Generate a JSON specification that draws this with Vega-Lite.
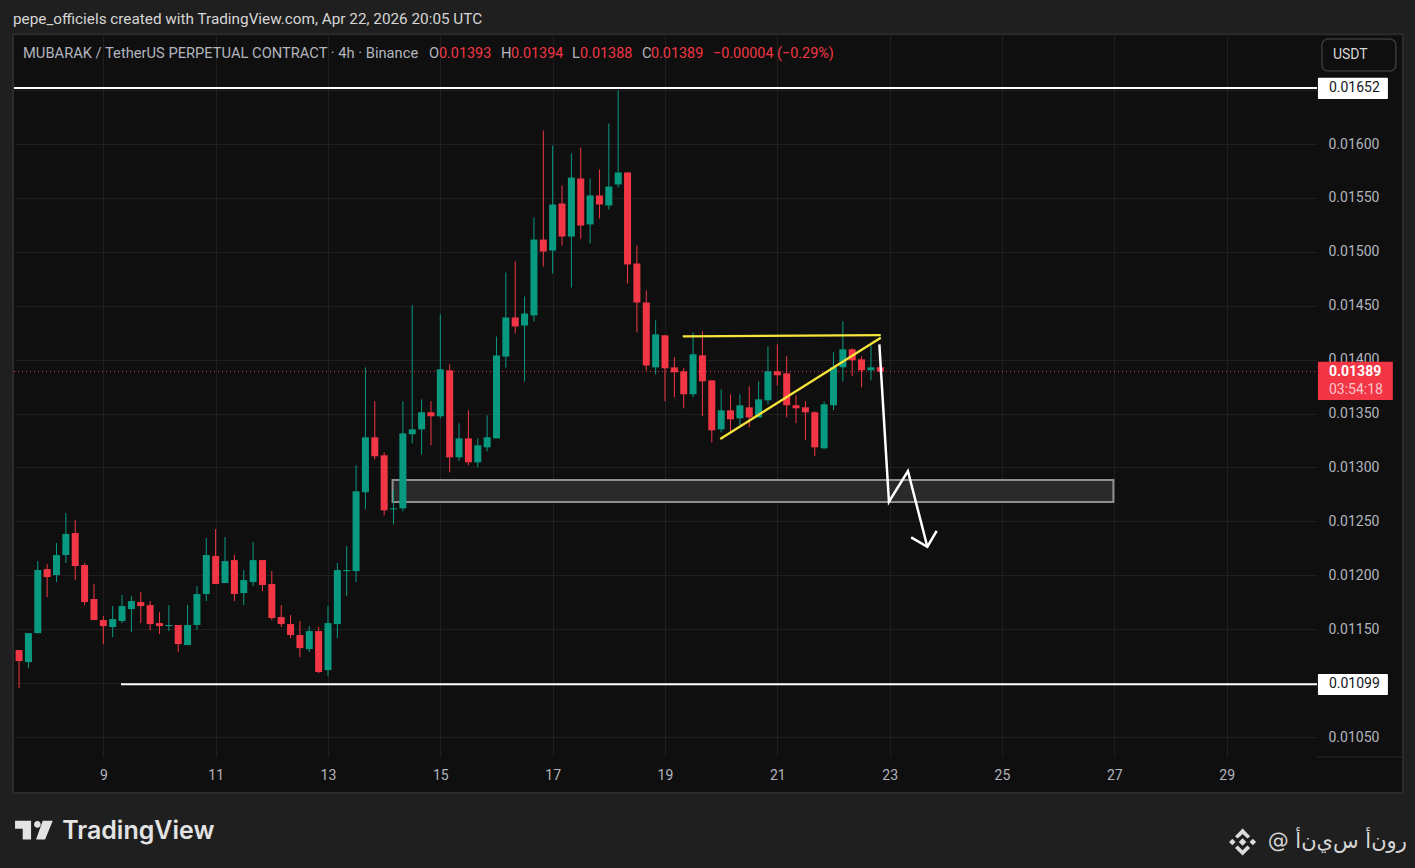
{
  "$schema": "https://vega.github.io/schema/vega-lite/v6.json",
  "description": "MUBARAK / TetherUS perpetual contract, 4h candles with drawn levels and a projected path.",
  "width": 1303,
  "height": 722,
  "autosize": {"type": "none"},
  "padding": {"left": 14, "top": 35, "right": 98, "bottom": 111},
  "background": "#0f0f0f",
  "view": {"stroke": null},
  "config": {"font": "Roboto", "text": {"font": "Roboto", "fontSize": 14, "baseline": "middle", "align": "left"}},
  "datasets": {
    "candles": [
      {"t":"2026-04-07T12:00:00Z","o":0.011307,"h":0.011307,"l":0.010954,"c":0.011205,"dir":"down"},
      {"t":"2026-04-07T16:00:00Z","o":0.011195,"h":0.011464,"l":0.011140,"c":0.011464,"dir":"up"},
      {"t":"2026-04-07T20:00:00Z","o":0.011464,"h":0.012132,"l":0.011464,"c":0.012049,"dir":"up"},
      {"t":"2026-04-08T00:00:00Z","o":0.012058,"h":0.012104,"l":0.011798,"c":0.011984,"dir":"down"},
      {"t":"2026-04-08T04:00:00Z","o":0.012002,"h":0.012299,"l":0.011937,"c":0.012188,"dir":"up"},
      {"t":"2026-04-08T08:00:00Z","o":0.012188,"h":0.012577,"l":0.012114,"c":0.012383,"dir":"up"},
      {"t":"2026-04-08T12:00:00Z","o":0.012392,"h":0.012512,"l":0.011956,"c":0.012086,"dir":"down"},
      {"t":"2026-04-08T16:00:00Z","o":0.012095,"h":0.012114,"l":0.011724,"c":0.011752,"dir":"down"},
      {"t":"2026-04-08T20:00:00Z","o":0.011780,"h":0.011919,"l":0.011585,"c":0.011585,"dir":"down"},
      {"t":"2026-04-09T00:00:00Z","o":0.011585,"h":0.011622,"l":0.011362,"c":0.011529,"dir":"down"},
      {"t":"2026-04-09T04:00:00Z","o":0.011520,"h":0.011715,"l":0.011427,"c":0.011594,"dir":"up"},
      {"t":"2026-04-09T08:00:00Z","o":0.011576,"h":0.011817,"l":0.011557,"c":0.011715,"dir":"up"},
      {"t":"2026-04-09T12:00:00Z","o":0.011687,"h":0.011808,"l":0.011474,"c":0.011761,"dir":"up"},
      {"t":"2026-04-09T16:00:00Z","o":0.011752,"h":0.011845,"l":0.011557,"c":0.011715,"dir":"down"},
      {"t":"2026-04-09T20:00:00Z","o":0.011724,"h":0.011761,"l":0.011492,"c":0.011548,"dir":"down"},
      {"t":"2026-04-10T00:00:00Z","o":0.011557,"h":0.011659,"l":0.011455,"c":0.011529,"dir":"down"},
      {"t":"2026-04-10T04:00:00Z","o":0.011529,"h":0.011724,"l":0.011483,"c":0.011539,"dir":"up"},
      {"t":"2026-04-10T08:00:00Z","o":0.011539,"h":0.011539,"l":0.011288,"c":0.011362,"dir":"down"},
      {"t":"2026-04-10T12:00:00Z","o":0.011353,"h":0.011724,"l":0.011353,"c":0.011539,"dir":"up"},
      {"t":"2026-04-10T16:00:00Z","o":0.011539,"h":0.011900,"l":0.011492,"c":0.011826,"dir":"up"},
      {"t":"2026-04-10T20:00:00Z","o":0.011826,"h":0.012346,"l":0.011761,"c":0.012188,"dir":"up"},
      {"t":"2026-04-11T00:00:00Z","o":0.012179,"h":0.012429,"l":0.011919,"c":0.011919,"dir":"down"},
      {"t":"2026-04-11T04:00:00Z","o":0.011928,"h":0.012355,"l":0.011928,"c":0.012132,"dir":"up"},
      {"t":"2026-04-11T08:00:00Z","o":0.012141,"h":0.012188,"l":0.011761,"c":0.011826,"dir":"down"},
      {"t":"2026-04-11T12:00:00Z","o":0.011835,"h":0.012049,"l":0.011724,"c":0.011956,"dir":"up"},
      {"t":"2026-04-11T16:00:00Z","o":0.011937,"h":0.012308,"l":0.011900,"c":0.012141,"dir":"up"},
      {"t":"2026-04-11T20:00:00Z","o":0.012141,"h":0.012141,"l":0.011854,"c":0.011910,"dir":"down"},
      {"t":"2026-04-12T00:00:00Z","o":0.011919,"h":0.012039,"l":0.011585,"c":0.011604,"dir":"down"},
      {"t":"2026-04-12T04:00:00Z","o":0.011613,"h":0.011724,"l":0.011520,"c":0.011548,"dir":"down"},
      {"t":"2026-04-12T08:00:00Z","o":0.011548,"h":0.011631,"l":0.011418,"c":0.011446,"dir":"down"},
      {"t":"2026-04-12T12:00:00Z","o":0.011446,"h":0.011576,"l":0.011242,"c":0.011325,"dir":"down"},
      {"t":"2026-04-12T16:00:00Z","o":0.011316,"h":0.011529,"l":0.011288,"c":0.011483,"dir":"up"},
      {"t":"2026-04-12T20:00:00Z","o":0.011483,"h":0.011520,"l":0.011093,"c":0.011103,"dir":"down"},
      {"t":"2026-04-13T00:00:00Z","o":0.011121,"h":0.011715,"l":0.011066,"c":0.011557,"dir":"up"},
      {"t":"2026-04-13T04:00:00Z","o":0.011548,"h":0.012114,"l":0.011418,"c":0.012049,"dir":"up"},
      {"t":"2026-04-13T08:00:00Z","o":0.012039,"h":0.012271,"l":0.011808,"c":0.012049,"dir":"up"},
      {"t":"2026-04-13T12:00:00Z","o":0.012039,"h":0.013020,"l":0.011937,"c":0.012779,"dir":"up"},
      {"t":"2026-04-13T16:00:00Z","o":0.012770,"h":0.013929,"l":0.012612,"c":0.013280,"dir":"up"},
      {"t":"2026-04-13T20:00:00Z","o":0.013280,"h":0.013614,"l":0.013076,"c":0.013104,"dir":"down"},
      {"t":"2026-04-14T00:00:00Z","o":0.013113,"h":0.013141,"l":0.012556,"c":0.012603,"dir":"down"},
      {"t":"2026-04-14T04:00:00Z","o":0.012612,"h":0.012788,"l":0.012473,"c":0.012621,"dir":"up"},
      {"t":"2026-04-14T08:00:00Z","o":0.012621,"h":0.013614,"l":0.012593,"c":0.013317,"dir":"up"},
      {"t":"2026-04-14T12:00:00Z","o":0.013308,"h":0.014504,"l":0.013224,"c":0.013354,"dir":"up"},
      {"t":"2026-04-14T16:00:00Z","o":0.013354,"h":0.013632,"l":0.013122,"c":0.013512,"dir":"up"},
      {"t":"2026-04-14T20:00:00Z","o":0.013512,"h":0.013614,"l":0.013206,"c":0.013475,"dir":"down"},
      {"t":"2026-04-15T00:00:00Z","o":0.013475,"h":0.014421,"l":0.013456,"c":0.013910,"dir":"up"},
      {"t":"2026-04-15T04:00:00Z","o":0.013901,"h":0.013957,"l":0.012955,"c":0.013094,"dir":"down"},
      {"t":"2026-04-15T08:00:00Z","o":0.013094,"h":0.013410,"l":0.013057,"c":0.013270,"dir":"up"},
      {"t":"2026-04-15T12:00:00Z","o":0.013270,"h":0.013530,"l":0.013020,"c":0.013048,"dir":"down"},
      {"t":"2026-04-15T16:00:00Z","o":0.013048,"h":0.013270,"l":0.013002,"c":0.013206,"dir":"up"},
      {"t":"2026-04-15T20:00:00Z","o":0.013187,"h":0.013484,"l":0.013150,"c":0.013280,"dir":"up"},
      {"t":"2026-04-16T00:00:00Z","o":0.013270,"h":0.014215,"l":0.013270,"c":0.014039,"dir":"up"},
      {"t":"2026-04-16T04:00:00Z","o":0.014029,"h":0.014808,"l":0.013927,"c":0.014391,"dir":"up"},
      {"t":"2026-04-16T08:00:00Z","o":0.014391,"h":0.014910,"l":0.014243,"c":0.014308,"dir":"down"},
      {"t":"2026-04-16T12:00:00Z","o":0.014317,"h":0.014586,"l":0.013797,"c":0.014428,"dir":"up"},
      {"t":"2026-04-16T16:00:00Z","o":0.014410,"h":0.015318,"l":0.014354,"c":0.015114,"dir":"up"},
      {"t":"2026-04-16T20:00:00Z","o":0.015114,"h":0.016125,"l":0.014864,"c":0.015003,"dir":"down"},
      {"t":"2026-04-17T00:00:00Z","o":0.015012,"h":0.015986,"l":0.014799,"c":0.015439,"dir":"up"},
      {"t":"2026-04-17T04:00:00Z","o":0.015448,"h":0.015615,"l":0.015059,"c":0.015142,"dir":"down"},
      {"t":"2026-04-17T08:00:00Z","o":0.015142,"h":0.015912,"l":0.014669,"c":0.015689,"dir":"up"},
      {"t":"2026-04-17T12:00:00Z","o":0.015680,"h":0.015968,"l":0.015124,"c":0.015244,"dir":"down"},
      {"t":"2026-04-17T16:00:00Z","o":0.015254,"h":0.015680,"l":0.015077,"c":0.015523,"dir":"up"},
      {"t":"2026-04-17T20:00:00Z","o":0.015523,"h":0.015764,"l":0.015309,"c":0.015439,"dir":"down"},
      {"t":"2026-04-18T00:00:00Z","o":0.015430,"h":0.016190,"l":0.015393,"c":0.015606,"dir":"up"},
      {"t":"2026-04-18T04:00:00Z","o":0.015625,"h":0.016496,"l":0.015597,"c":0.015736,"dir":"up"},
      {"t":"2026-04-18T08:00:00Z","o":0.015736,"h":0.015736,"l":0.014706,"c":0.014883,"dir":"down"},
      {"t":"2026-04-18T12:00:00Z","o":0.014892,"h":0.015059,"l":0.014252,"c":0.014530,"dir":"down"},
      {"t":"2026-04-18T16:00:00Z","o":0.014530,"h":0.014641,"l":0.013899,"c":0.013946,"dir":"down"},
      {"t":"2026-04-18T20:00:00Z","o":0.013929,"h":0.014365,"l":0.013864,"c":0.014235,"dir":"up"},
      {"t":"2026-04-19T00:00:00Z","o":0.014226,"h":0.014226,"l":0.013614,"c":0.013920,"dir":"down"},
      {"t":"2026-04-19T04:00:00Z","o":0.013929,"h":0.014022,"l":0.013651,"c":0.013883,"dir":"down"},
      {"t":"2026-04-19T08:00:00Z","o":0.013892,"h":0.013920,"l":0.013549,"c":0.013679,"dir":"down"},
      {"t":"2026-04-19T12:00:00Z","o":0.013679,"h":0.014254,"l":0.013651,"c":0.014050,"dir":"up"},
      {"t":"2026-04-19T16:00:00Z","o":0.014040,"h":0.014263,"l":0.013475,"c":0.013799,"dir":"down"},
      {"t":"2026-04-19T20:00:00Z","o":0.013808,"h":0.013808,"l":0.013233,"c":0.013345,"dir":"down"},
      {"t":"2026-04-20T00:00:00Z","o":0.013354,"h":0.013725,"l":0.013326,"c":0.013530,"dir":"up"},
      {"t":"2026-04-20T04:00:00Z","o":0.013530,"h":0.013679,"l":0.013317,"c":0.013447,"dir":"down"},
      {"t":"2026-04-20T08:00:00Z","o":0.013456,"h":0.013679,"l":0.013382,"c":0.013577,"dir":"up"},
      {"t":"2026-04-20T12:00:00Z","o":0.013558,"h":0.013753,"l":0.013372,"c":0.013465,"dir":"down"},
      {"t":"2026-04-20T16:00:00Z","o":0.013465,"h":0.013799,"l":0.013465,"c":0.013632,"dir":"up"},
      {"t":"2026-04-20T20:00:00Z","o":0.013623,"h":0.014124,"l":0.013586,"c":0.013892,"dir":"up"},
      {"t":"2026-04-21T00:00:00Z","o":0.013892,"h":0.014142,"l":0.013762,"c":0.013855,"dir":"down"},
      {"t":"2026-04-21T04:00:00Z","o":0.013873,"h":0.014031,"l":0.013465,"c":0.013577,"dir":"down"},
      {"t":"2026-04-21T08:00:00Z","o":0.013577,"h":0.013669,"l":0.013410,"c":0.013549,"dir":"down"},
      {"t":"2026-04-21T12:00:00Z","o":0.013558,"h":0.013614,"l":0.013252,"c":0.013512,"dir":"down"},
      {"t":"2026-04-21T16:00:00Z","o":0.013512,"h":0.013521,"l":0.013104,"c":0.013187,"dir":"down"},
      {"t":"2026-04-21T20:00:00Z","o":0.013178,"h":0.013614,"l":0.013168,"c":0.013586,"dir":"up"},
      {"t":"2026-04-22T00:00:00Z","o":0.013577,"h":0.014068,"l":0.013530,"c":0.013929,"dir":"up"},
      {"t":"2026-04-22T04:00:00Z","o":0.013929,"h":0.014356,"l":0.013799,"c":0.014096,"dir":"up"},
      {"t":"2026-04-22T08:00:00Z","o":0.014096,"h":0.014105,"l":0.013846,"c":0.013994,"dir":"down"},
      {"t":"2026-04-22T12:00:00Z","o":0.014003,"h":0.014031,"l":0.013743,"c":0.013901,"dir":"down"},
      {"t":"2026-04-22T16:00:00Z","o":0.013901,"h":0.014133,"l":0.013808,"c":0.013929,"dir":"up"},
      {"t":"2026-04-22T20:00:00Z","o":0.01393,"h":0.01394,"l":0.01388,"c":0.01389,"dir":"down"}
    ]
  },
  "encoding": {
    "x": {
      "field": "t",
      "type": "temporal",
      "title": null,
      "scale": {"type": "utc", "domain": ["2026-04-07T09:50:00Z", "2026-04-30T14:36:00Z"], "nice": false, "padding": 0},
      "axis": {
        "orient": "bottom",
        "tickCount": {"interval": "day", "step": 2},
        "format": "%-d",
        "grid": true,
        "gridColor": "#1f1f1f",
        "domain": false,
        "ticks": false,
        "labelPadding": 11,
        "labelFontSize": 14,
        "labelColor": "#b2b5be",
        "labelFont": "Roboto"
      }
    },
    "y": {
      "field": "p",
      "type": "quantitative",
      "title": null,
      "scale": {"domain": [0.010315, 0.017011], "nice": false, "zero": false},
      "axis": {
        "orient": "right",
        "values": [0.0105, 0.011, 0.0115, 0.012, 0.0125, 0.013, 0.0135, 0.014, 0.0145, 0.015, 0.0155, 0.016, 0.0165],
        "format": ".5f",
        "grid": true,
        "gridColor": "#1f1f1f",
        "domain": false,
        "ticks": false,
        "labelPadding": 11,
        "labelFontSize": 14,
        "labelColor": "#b2b5be",
        "labelFont": "Roboto"
      }
    }
  },
  "layer": [
    {
      "data": {"values": [
        {"t": "2026-04-07T00:00:00Z", "t2": "2026-05-02T08:30:00Z", "p": 0.017336, "p2": 0.017017},
        {"t": "2026-04-07T00:00:00Z", "t2": "2026-05-02T08:30:00Z", "p": 0.00998, "p2": 0.009285},
        {"t": "2026-04-07T00:00:00Z", "t2": "2026-04-07T09:24:00Z", "p": 0.017336, "p2": 0.009285},
        {"t": "2026-05-02T03:18:00Z", "t2": "2026-05-02T08:30:00Z", "p": 0.017336, "p2": 0.009285}
      ]},
      "mark": {"type": "rect", "color": "#1f1f1f"},
      "encoding": {"x2": {"field": "t2"}, "y2": {"field": "p2"}}
    },
    {
      "data": {"values": [{"t": "2026-04-07T09:24:00Z", "t2": "2026-05-02T03:18:00Z", "p": 0.017017, "p2": 0.00998}]},
      "mark": {"type": "rect", "filled": false, "stroke": "#2b2b2b", "strokeWidth": 2},
      "encoding": {"x2": {"field": "t2"}, "y2": {"field": "p2"}}
    },
    {
      "data": {"values": [{"t": "2026-04-30T14:36:00Z", "t2": "2026-05-02T03:18:00Z", "p": 0.010315}]},
      "mark": {"type": "rule", "color": "#2b2b2b"},
      "encoding": {"x2": {"field": "t2"}}
    },
    {
      "data": {"values": [{"t": "2026-04-14T03:36:00Z", "t2": "2026-04-26T23:36:00Z", "p": 0.012884, "p2": 0.01268}]},
      "mark": {"type": "rect", "fill": "#2a2a2a", "stroke": "#8f8f8f", "strokeWidth": 2},
      "encoding": {"x2": {"field": "t2"}, "y2": {"field": "p2"}}
    },
    {
      "data": {"values": [{"t": "2026-04-07T09:50:00Z", "t2": "2026-04-30T14:36:00Z", "p": 0.01389}]},
      "mark": {"type": "rule", "color": "#f23645", "strokeWidth": 1, "strokeDash": [1, 3]},
      "encoding": {"x2": {"field": "t2"}}
    },
    {
      "data": {"name": "candles"},
      "mark": {"type": "rule", "strokeWidth": 1},
      "encoding": {
        "y": {
          "field": "h",
          "type": "quantitative",
          "title": null,
          "axis": {
            "orient": "right",
            "values": [0.0105, 0.011, 0.0115, 0.012, 0.0125, 0.013, 0.0135, 0.014, 0.0145, 0.015, 0.0155, 0.016, 0.0165],
            "format": ".5f",
            "grid": true,
            "gridColor": "#1f1f1f",
            "domain": false,
            "ticks": false,
            "labelPadding": 11,
            "labelFontSize": 14,
            "labelColor": "#b2b5be",
            "labelFont": "Roboto"
          }
        },
        "y2": {"field": "l"},
        "color": {"field": "dir", "type": "nominal", "legend": null, "scale": {"domain": ["up", "down"], "range": ["#089981", "#f23645"]}}
      }
    },
    {
      "data": {"name": "candles"},
      "mark": {"type": "bar", "size": 7},
      "encoding": {
        "y": {
          "field": "o",
          "type": "quantitative",
          "title": null,
          "axis": {
            "orient": "right",
            "values": [0.0105, 0.011, 0.0115, 0.012, 0.0125, 0.013, 0.0135, 0.014, 0.0145, 0.015, 0.0155, 0.016, 0.0165],
            "format": ".5f",
            "grid": true,
            "gridColor": "#1f1f1f",
            "domain": false,
            "ticks": false,
            "labelPadding": 11,
            "labelFontSize": 14,
            "labelColor": "#b2b5be",
            "labelFont": "Roboto"
          }
        },
        "y2": {"field": "c"},
        "color": {"field": "dir", "type": "nominal", "legend": null, "scale": {"domain": ["up", "down"], "range": ["#089981", "#f23645"]}}
      }
    },
    {
      "data": {"values": [
        {"t": "2026-04-07T09:50:00Z", "t2": "2026-04-30T14:36:00Z", "p": 0.01652},
        {"t": "2026-04-09T07:34:00Z", "t2": "2026-04-30T14:36:00Z", "p": 0.01099}
      ]},
      "mark": {"type": "rule", "color": "#ffffff", "strokeWidth": 2},
      "encoding": {"x2": {"field": "t2"}}
    },
    {
      "data": {"values": [
        {"seg": "top", "ord": 1, "t": "2026-04-19T07:36:00Z", "p": 0.014216},
        {"seg": "top", "ord": 2, "t": "2026-04-22T20:12:00Z", "p": 0.014228},
        {"seg": "rise", "ord": 1, "t": "2026-04-19T23:36:00Z", "p": 0.013264},
        {"seg": "rise", "ord": 2, "t": "2026-04-22T20:12:00Z", "p": 0.014203}
      ]},
      "mark": {"type": "line", "color": "#f7e53b", "strokeWidth": 2.3},
      "encoding": {"detail": {"field": "seg"}, "order": {"field": "ord"}}
    },
    {
      "data": {"values": [
        {"seg": "path", "ord": 1, "t": "2026-04-22T19:36:00Z", "p": 0.014142},
        {"seg": "path", "ord": 2, "t": "2026-04-22T23:42:00Z", "p": 0.012682},
        {"seg": "path", "ord": 3, "t": "2026-04-23T07:48:00Z", "p": 0.012967},
        {"seg": "path", "ord": 4, "t": "2026-04-23T16:06:00Z", "p": 0.012265},
        {"seg": "head", "ord": 1, "t": "2026-04-23T09:12:00Z", "p": 0.012352},
        {"seg": "head", "ord": 2, "t": "2026-04-23T16:06:00Z", "p": 0.012265},
        {"seg": "head", "ord": 3, "t": "2026-04-23T20:06:00Z", "p": 0.012413}
      ]},
      "mark": {"type": "line", "color": "#ffffff", "strokeWidth": 2.5},
      "encoding": {"detail": {"field": "seg"}, "order": {"field": "ord"}}
    },
    {
      "data": {"values": [
        {"t": "2026-04-30T15:00:00Z", "t2": "2026-05-01T20:54:00Z", "p": 0.016615, "p2": 0.016417},
        {"t": "2026-04-30T15:00:00Z", "t2": "2026-05-01T20:54:00Z", "p": 0.011084, "p2": 0.01089}
      ]},
      "mark": {"type": "rect", "color": "#ffffff", "cornerRadius": 1},
      "encoding": {"x2": {"field": "t2"}, "y2": {"field": "p2"}}
    },
    {
      "data": {"values": [{"t": "2026-04-30T15:00:00Z", "t2": "2026-05-01T23:00:00Z", "p": 0.013981, "p2": 0.013626}]},
      "mark": {"type": "rect", "color": "#f23645", "cornerRadius": 1},
      "encoding": {"x2": {"field": "t2"}, "y2": {"field": "p2"}}
    },
    {
      "data": {"values": [{"t": "2026-04-30T16:42:00Z", "t2": "2026-05-02T00:18:00Z", "p": 0.016974, "p2": 0.016677}]},
      "mark": {"type": "rect", "fill": "#0f0f0f", "stroke": "#3a3a3a", "strokeWidth": 1.5, "cornerRadius": 6},
      "encoding": {"x2": {"field": "t2"}, "y2": {"field": "p2"}}
    },
    {
      "data": {"values": [
        {"t": "2026-04-30T19:42:00Z", "p": 0.01652, "label": "0.01652"},
        {"t": "2026-04-30T19:42:00Z", "p": 0.01099, "label": "0.01099"}
      ]},
      "mark": {"type": "text", "color": "#131722"},
      "encoding": {"text": {"field": "label"}}
    },
    {
      "data": {"values": [{"t": "2026-04-30T19:42:00Z", "p": 0.013885, "label": "0.01389"}]},
      "mark": {"type": "text", "color": "#ffffff", "fontWeight": "bold"},
      "encoding": {"text": {"field": "label"}}
    },
    {
      "data": {"values": [{"t": "2026-04-30T19:42:00Z", "p": 0.013718, "label": "03:54:18"}]},
      "mark": {"type": "text", "color": "#fcc5ca"},
      "encoding": {"text": {"field": "label"}}
    },
    {
      "data": {"values": [{"t": "2026-04-07T09:24:00Z", "p": 0.017159, "label": "pepe_officiels created with TradingView.com, Apr 22, 2026 20:05 UTC"}]},
      "mark": {"type": "text", "color": "#d6d6d6", "fontSize": 15.3},
      "encoding": {"text": {"field": "label"}}
    },
    {
      "data": {"values": [{"t": "2026-04-30T21:24:00Z", "p": 0.016825, "label": "USDT"}]},
      "mark": {"type": "text", "color": "#d6d6d6"},
      "encoding": {"text": {"field": "label"}}
    },
    {
      "data": {"values": [
        {"t": "2026-04-07T13:42:00Z", "p": 0.016835, "label": "MUBARAK / TetherUS PERPETUAL CONTRACT · 4h · Binance"},
        {"t": "2026-04-14T19:12:00Z", "p": 0.016835, "label": "O"},
        {"t": "2026-04-16T01:54:00Z", "p": 0.016835, "label": "H"},
        {"t": "2026-04-17T08:18:00Z", "p": 0.016835, "label": "L"},
        {"t": "2026-04-18T14:12:00Z", "p": 0.016835, "label": "C"}
      ]},
      "mark": {"type": "text", "color": "#b2b5be", "fontSize": 14.7},
      "encoding": {"text": {"field": "label"}}
    },
    {
      "data": {"values": [
        {"t": "2026-04-14T23:24:00Z", "p": 0.016835, "label": "0.01393"},
        {"t": "2026-04-16T06:12:00Z", "p": 0.016835, "label": "0.01394"},
        {"t": "2026-04-17T11:42:00Z", "p": 0.016835, "label": "0.01388"},
        {"t": "2026-04-18T18:00:00Z", "p": 0.016835, "label": "0.01389"},
        {"t": "2026-04-19T20:30:00Z", "p": 0.016835, "label": "−0.00004 (−0.29%)"}
      ]},
      "mark": {"type": "text", "color": "#f23645", "fontSize": 14.4},
      "encoding": {"text": {"field": "label"}}
    },
    {
      "data": {"values": [{"t": "2026-04-07T18:20:00Z", "p": 0.009637}]},
      "mark": {
        "type": "point",
        "filled": true,
        "opacity": 1,
        "color": "#e3e3e3",
        "size": 1421,
        "shape": "M-1 -0.496H-0.15V0.496H-0.593V-0.07H-1Z M0.009 -0.3A0.177 0.177 0 1 0 0.363 -0.3A0.177 0.177 0 1 0 0.009 -0.3Z M0.469 -0.496H1L0.593 0.496H0.115Z"
      }
    },
    {
      "data": {"values": [{"t": "2026-04-08T06:24:00Z", "p": 0.009628, "label": "TradingView"}]},
      "mark": {"type": "text", "font": "Inter", "fontSize": 25, "fontWeight": 600, "color": "#e3e3e3"},
      "encoding": {"text": {"field": "label"}}
    },
    {
      "data": {"values": [{"t": "2026-04-29T06:48:00Z", "p": 0.009526}]},
      "mark": {
        "type": "point",
        "filled": true,
        "opacity": 1,
        "color": "#dcdcdc",
        "size": 729,
        "shape": "M0 -0.28L0.28 0L0 0.28L-0.28 0Z M-1 0L-0.76 -0.24L-0.52 0L-0.76 0.24Z M1 0L0.76 -0.24L0.52 0L0.76 0.24Z M0 -1L0.56 -0.44L0.36 -0.26L0 -0.6L-0.36 -0.26L-0.56 -0.44Z M0 1L0.56 0.44L0.36 0.26L0 0.6L-0.36 0.26L-0.56 0.44Z"
      }
    },
    {
      "data": {"values": [{"t": "2026-05-02T05:00:00Z", "p": 0.009526, "label": "@ ر‌و‌ن‌أ س‌ي‌ن‌أ"}]},
      "mark": {"type": "text", "font": "DejaVu Sans", "fontSize": 21, "align": "right", "color": "#d6d6d6"},
      "encoding": {"text": {"field": "label"}}
    }
  ]
}
